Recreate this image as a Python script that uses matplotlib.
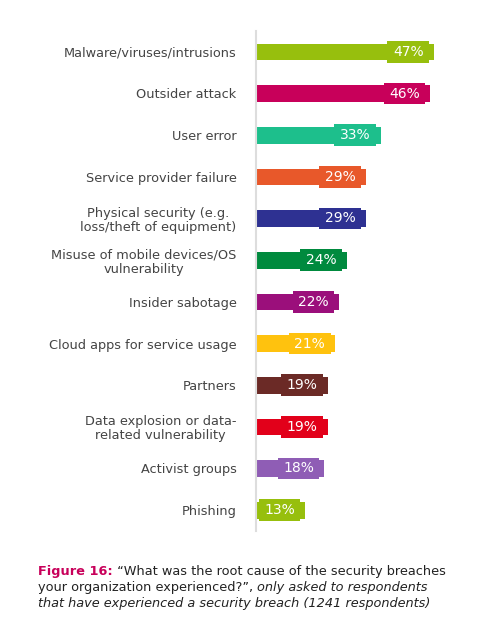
import matplotlib
matplotlib.use("Agg")
import matplotlib.pyplot as plt
from matplotlib.patches import Rectangle

categories = ["Malware/viruses/intrusions", "Outsider attack", "User error",
              "Service provider failure", "Physical security (e.g.\nloss/theft of equipment)",
              "Misuse of mobile devices/OS\nvulnerability", "Insider sabotage",
              "Cloud apps for service usage", "Partners",
              "Data explosion or data-\nrelated vulnerability", "Activist groups", "Phishing"]
values = [47, 46, 33, 29, 29, 24, 22, 21, 19, 19, 18, 13]
colors = ["#97bf0d", "#c8005a", "#1dbf8c", "#e8582a", "#2e3192", "#008a3e",
          "#9b0f7b", "#ffc20e", "#6b2a26", "#e2001a", "#8f5db5", "#97bf0d"]

fig = plt.figure(figsize=(4.91, 6.29), dpi=100)
ax = fig.add_axes([256/491, 1-531/629, 1-256/491-0.02, 500/629])
n = len(values)
ys = list(range(n))
for y, v, c in zip(ys, values, colors):
    ax.add_patch(Rectangle((0, y-0.2), v, 0.4, color=c, lw=0))
    ax.add_patch(Rectangle((v-12.3, y-0.26), 11, 0.52, color=c, lw=0))
    ax.text(v-6.8, y, f"{v}%", color="white", ha="center", va="center", fontsize=10)
ax.set_xlim(0, 59.5)
ax.set_ylim(n-0.5, -0.5)
ax.set_yticks(ys)
ax.set_yticklabels(categories, fontsize=9.3, color="#444444", linespacing=1.1)
ax.tick_params(axis="y", length=0, pad=14)
ax.set_xticks([])
for s in ["top", "right", "bottom"]:
    ax.spines[s].set_visible(False)
ax.spines["left"].set_color("#dddddd")
ax.spines["left"].set_linewidth(1.5)
for t in ax.get_yticklabels():
    t.set_multialignment("center")

fs = 9.3
x0 = 38/491
t1 = fig.text(x0, 1-572/629, "Figure 16:", color="#c8005a", fontweight="bold", fontsize=fs, va="center")
fig.add_artist(plt.Annotation(" “What was the root cause of the security breaches", xy=(1, 0.5),
               xycoords=t1, va="center", fontsize=fs, color="#222222", annotation_clip=False))
l2 = fig.text(x0, 1-588/629, "your organization experienced?”, ", color="#222222", fontsize=fs, va="center")
fig.add_artist(plt.Annotation("only asked to respondents", xy=(1, 0.5), xycoords=l2, va="center",
               fontsize=fs, color="#222222", style="italic", annotation_clip=False))
fig.text(x0, 1-604/629, "that have experienced a security breach (1241 respondents)", color="#222222",
         fontsize=fs, style="italic", va="center")
fig.savefig("out.png", dpi=100)
